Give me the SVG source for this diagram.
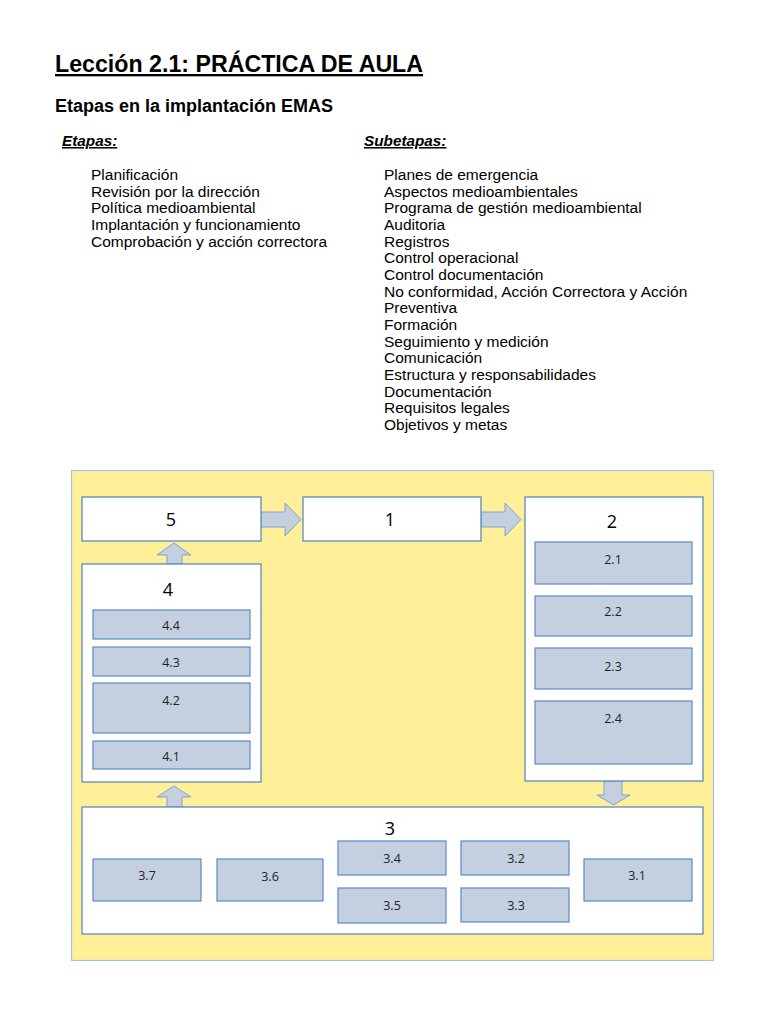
<svg xmlns="http://www.w3.org/2000/svg" width="768" height="1024" viewBox="0 0 768 1024">
<style>
.t{font-family:"Liberation Sans",Arial,sans-serif;fill:#000}
.h1{font-size:23.2px;font-weight:bold;text-decoration:underline}
.h2{font-size:18px;font-weight:bold}
.h3{font-size:15.3px;font-weight:bold;font-style:italic;text-decoration:underline}
.li{font-size:15.5px}
.box{fill:#fff;stroke:#4F81BD;stroke-width:1.2}
.sub{fill:#C4D0DF;stroke:#5A8AC6;stroke-width:1.2}
.lab{font-family:"Open Sans","Noto Sans",sans-serif;font-size:18px;fill:#000;text-anchor:middle}
.sl{font-family:"Open Sans","Noto Sans",sans-serif;font-size:12.5px;fill:#222;text-anchor:middle}
.arr{fill:#C4D0DF;stroke:#7FA3CF;stroke-width:1}
</style>
<rect width="768" height="1024" fill="#fff"/>
<text class="t h1" x="55" y="72">Lección 2.1: PRÁCTICA DE AULA</text>
<text class="t h2" x="55" y="112">Etapas en la implantación EMAS</text>
<text class="t h3" x="62" y="146">Etapas:</text>
<text class="t h3" x="364" y="146">Subetapas:</text>
<g class="t li">
<text x="91" y="180">Planificación</text>
<text x="91" y="196.7">Revisión por la dirección</text>
<text x="91" y="213.3">Política medioambiental</text>
<text x="91" y="230">Implantación y funcionamiento</text>
<text x="91" y="246.7">Comprobación y acción correctora</text>
<text x="384" y="180">Planes de emergencia</text>
<text x="384" y="196.7">Aspectos medioambientales</text>
<text x="384" y="213.3">Programa de gestión medioambiental</text>
<text x="384" y="230">Auditoria</text>
<text x="384" y="246.7">Registros</text>
<text x="384" y="263.3">Control operacional</text>
<text x="384" y="280">Control documentación</text>
<text x="384" y="296.7">No conformidad, Acción Correctora y Acción</text>
<text x="384" y="313.3">Preventiva</text>
<text x="384" y="330">Formación</text>
<text x="384" y="346.7">Seguimiento y medición</text>
<text x="384" y="363.3">Comunicación</text>
<text x="384" y="380">Estructura y responsabilidades</text>
<text x="384" y="396.7">Documentación</text>
<text x="384" y="413.3">Requisitos legales</text>
<text x="384" y="430">Objetivos y metas</text>
</g>
<rect x="71.5" y="470.5" width="642" height="490" fill="#FFEF99" stroke="#9DC3E6" stroke-width="1.2"/>
<g id="connectors">
<path class="arr" d="M261 512 H285 V503 L301 519.5 L285 536 V527 H261 Z"/>
<path class="arr" d="M481 512 H505 V503 L521 519.5 L505 536 V527 H481 Z"/>
<path class="arr" d="M167 564 V555 H157 L174 543 L191 555 H182 V564 Z"/>
<path class="arr" d="M167 807 V797 H157 L174 786 L191 797 H182 V807 Z"/>
<path class="arr" d="M604 781 V795 H597 L613.5 805 L630 795 H622 V781 Z"/>
</g>
<g id="n5"><rect class="box" x="82" y="497" width="179" height="44"/><text class="lab" x="171" y="526">5</text></g>
<g id="n1"><rect class="box" x="303" y="497" width="178" height="44"/><text class="lab" x="390" y="526">1</text></g>
<g id="n2"><rect class="box" x="525" y="497" width="178" height="284"/><text class="lab" x="612" y="528">2</text></g>
<g id="n2-1"><rect class="sub" x="535" y="542" width="157" height="42"/><text class="sl" x="613" y="564">2.1</text></g>
<g id="n2-2"><rect class="sub" x="535" y="596" width="157" height="40"/><text class="sl" x="613" y="616">2.2</text></g>
<g id="n2-3"><rect class="sub" x="535" y="648" width="157" height="41"/><text class="sl" x="613" y="671">2.3</text></g>
<g id="n2-4"><rect class="sub" x="535" y="701" width="157" height="63"/><text class="sl" x="613" y="723">2.4</text></g>
<g id="n4"><rect class="box" x="82" y="564" width="179" height="218"/><text class="lab" x="168" y="596">4</text></g>
<g id="n4-4"><rect class="sub" x="93" y="610" width="157" height="29"/><text class="sl" x="171" y="630">4.4</text></g>
<g id="n4-3"><rect class="sub" x="93" y="647" width="157" height="29"/><text class="sl" x="171" y="667">4.3</text></g>
<g id="n4-2"><rect class="sub" x="93" y="683" width="157" height="50"/><text class="sl" x="171" y="705">4.2</text></g>
<g id="n4-1"><rect class="sub" x="93" y="741" width="157" height="28"/><text class="sl" x="171" y="761">4.1</text></g>
<g id="n3"><rect class="box" x="82" y="807" width="621" height="127"/><text class="lab" x="390" y="835">3</text></g>
<g id="n3-7"><rect class="sub" x="93" y="859" width="108" height="42"/><text class="sl" x="147" y="880">3.7</text></g>
<g id="n3-6"><rect class="sub" x="217" y="859" width="106" height="42"/><text class="sl" x="270" y="881">3.6</text></g>
<g id="n3-4"><rect class="sub" x="338" y="841" width="108" height="34"/><text class="sl" x="392" y="863">3.4</text></g>
<g id="n3-5"><rect class="sub" x="338" y="888" width="108" height="35"/><text class="sl" x="392" y="910">3.5</text></g>
<g id="n3-2"><rect class="sub" x="461" y="841" width="108" height="34"/><text class="sl" x="516" y="863">3.2</text></g>
<g id="n3-3"><rect class="sub" x="461" y="888" width="108" height="34"/><text class="sl" x="516" y="910">3.3</text></g>
<g id="n3-1"><rect class="sub" x="584" y="859" width="108" height="42"/><text class="sl" x="637" y="880">3.1</text></g>
</svg>
